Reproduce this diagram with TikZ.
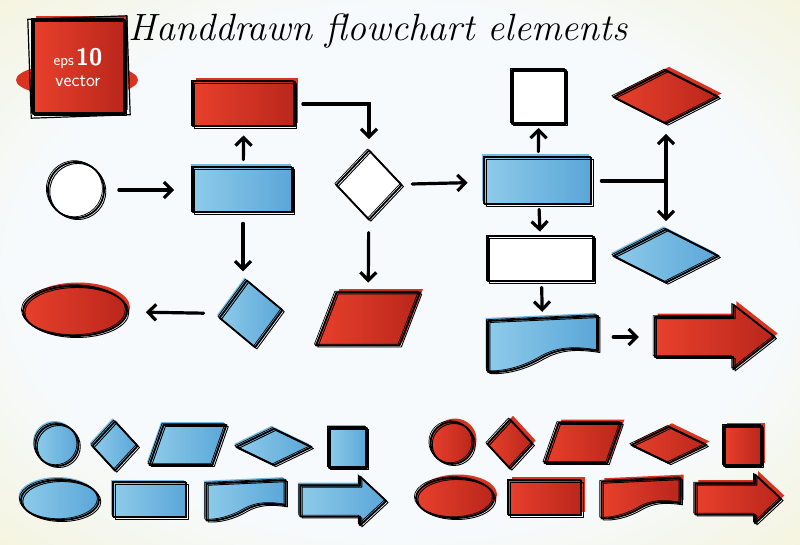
\documentclass[tikz,border=0pt]{standalone}
\usepackage{fontspec}
\usetikzlibrary{positioning, shapes.geometric, shapes.arrows, arrows.meta}

\definecolor{redL}{HTML}{E8402C}
\definecolor{redR}{HTML}{B9261B}
\definecolor{redC}{HTML}{D93322}
\definecolor{bluL}{HTML}{8ECBEA}
\definecolor{bluR}{HTML}{5AA6D8}
\definecolor{bluC}{HTML}{74B9E2}
\definecolor{paper}{HTML}{F6FAFC}
\definecolor{cream}{HTML}{F3EFC6}

\pgfdeclareradialshading{paperglow}{\pgfpoint{0bp}{0bp}}{color(0bp)=(paper); color(24bp)=(paper); color(46bp)=(cream); color(72bp)=(cream)}

\tikzset{
  sketch/.style={draw=black, line width=1.8pt, line join=round,
    postaction={draw=black, line width=0.9pt, transform canvas={shift={(1.8pt,-1.5pt)}}},
    postaction={draw=black, line width=0.7pt, transform canvas={shift={(-1.6pt,1.3pt)}}}},
  redbox/.style={sketch, left color=redL, right color=redR,
    preaction={fill=redC, transform canvas={shift={(3pt,3.5pt)}}}},
  bluebox/.style={sketch, left color=bluL, right color=bluR,
    preaction={fill=bluC, transform canvas={shift={(-2.5pt,3pt)}}}},
  whitebox/.style={sketch, fill=white},
  box/.style={rectangle, inner sep=0pt},
  para/.style={trapezium, trapezium stretches=true, inner sep=2pt,
    trapezium left angle=72, trapezium right angle=108},
  link/.style={-{Straight Barb[length=8pt,width=16pt]}, line width=3.2pt,
    line cap=round, shorten >=8pt, shorten <=8pt},
  docshape/.pic={
    \path[#1] (-55,-24) -- (55,-29) -- (55,6) .. controls (30,2) and (15,4) .. (0,12)
      .. controls (-20,24) and (-40,28) .. (-55,27) -- cycle;
  },
}

\begin{document}
\begin{tikzpicture}[x=1pt, y=-1pt]
\useasboundingbox (0,0) rectangle (800,545);
\shade[shading=paperglow] (0,0) rectangle (800,545);

% title and badge
\node[font=\fontsize{38}{38}\selectfont\itshape] (title) at (378,31) {Handdrawn flowchart elements};
\fill[redC] (77,80) ellipse [x radius=61, y radius=17];
\node[box, redbox, minimum width=92, minimum height=94] (badge) at (79,67) {};
\node[box, draw, line width=1.2pt, minimum width=99, minimum height=99, rotate=2] (badgeframe) at (badge) {};
\node[font=\sffamily, text=white, anchor=base, inner sep=0pt] (eps) at (78,66)
  {{\fontsize{16}{16}\selectfont eps}\hspace{2pt}{\fontsize{24}{22}\selectfont\bfseries 10}};
\node[font=\sffamily\fontsize{19}{16}\selectfont, text=white, anchor=north, inner sep=0pt] (vec) at ([yshift=-6pt]eps.south) {vector};

% main chart
\node[circle, whitebox, minimum size=56] (start) at (76,190) {};
\node[box, bluebox, minimum width=100, minimum height=45] (B1) at (243,190) {};
\node[box, redbox, minimum width=102, minimum height=45] (R1) at (244,104) {};
\node[diamond, whitebox, minimum width=66, minimum height=70, inner sep=0pt] (D1) at (369,185) {};
\node[box, bluebox, minimum width=107, minimum height=47] (B2) at (538,181) {};
\node[box, whitebox, minimum size=54] (S1) at (539,97) {};
\node[diamond, redbox, minimum width=106, minimum height=54, inner sep=0pt] (RD1) at (666,97) {};
\node[diamond, bluebox, minimum width=106, minimum height=54, inner sep=0pt] (BD1) at (666,256) {};
\node[box, whitebox, minimum width=106, minimum height=45] (W1) at (541,259) {};
\node[box, minimum width=110, minimum height=54] (DOC1) at (543,345) {};
\pic at (DOC1) {docshape=bluebox};
\node[single arrow, redbox, minimum height=120, minimum width=63, single arrow head extend=12.5pt,
  single arrow tip angle=76, inner xsep=0pt, inner ysep=19pt] (ARR1) at (702,337) {};
\node[diamond, bluebox, minimum width=64, minimum height=68, inner sep=0pt, rotate=7] (BD2) at (251,314) {};
\node[ellipse, redbox, minimum width=104, minimum height=50, inner sep=0pt] (E1) at (75,311) {};
\node[para, redbox, minimum width=104, minimum height=53] (P1) at (368,319) {};

\draw[link, shorten <=14pt, shorten >=18pt] (start) -- (B1);
\draw[link, shorten <=7pt] (B1) -- (R1);
\draw[link, shorten <=7pt, shorten >=10pt] (R1.east) -| (D1.north);
\draw[link, shorten <=10pt, shorten >=16pt] (D1) -- (B2);
\draw[link, shorten <=5pt, shorten >=3pt] (B2) -- (S1);
\coordinate (fork) at (RD1.south |- B2.east);
\draw[line width=3.2pt, line cap=round, shorten <=9pt] (B2.east) -- (fork);
\draw[link, shorten <=0pt, shorten >=9pt] (fork) -- (RD1.south);
\draw[link, shorten <=0pt, shorten >=7pt] (fork) -- (BD1.north);
\draw[link, shorten <=4pt, shorten >=4pt] (B2) -- (W1);
\draw[link, shorten <=5pt, shorten >=6pt] (W1) -- (DOC1);
\draw[link, shorten <=15pt, shorten >=15pt] (DOC1.east |- ARR1.west) -- (ARR1.west);
\draw[link, shorten <=10pt, shorten >=8pt] (B1.south) -- (B1.south |- BD2.north);
\draw[link, shorten <=18pt, shorten >=18pt] (BD2) -- (E1);
\draw[link, shorten <=12pt, shorten >=9pt] (D1) -- (P1);

% sample shapes
\foreach \dx/\dy/\fillc in {0/0/bluebox, 395/-2/redbox} {
  \begin{scope}[shift={(\dx,\dy)}]
    \node[ellipse, \fillc, minimum width=43, minimum height=42, inner sep=0pt] (oval-\fillc) at (57,445) {};
    \node[diamond, \fillc, minimum width=46, minimum height=50, inner sep=0pt] (tall-\fillc) at (115,446) {};
    \node[para, \fillc, minimum width=77, minimum height=40, trapezium left angle=74, trapezium right angle=106] (para-\fillc) at (188,445) {};
    \node[diamond, \fillc, minimum width=76, minimum height=37, inner sep=0pt] (wide-\fillc) at (274,447) {};
    \node[box, \fillc, minimum width=38, minimum height=40] (sq-\fillc) at (348,448) {};
    \node[ellipse, \fillc, minimum width=78, minimum height=40, inner sep=0pt] (egg-\fillc) at (60,500) {};
    \node[box, \fillc, minimum width=73, minimum height=35] (rect-\fillc) at (150,500) {};
    \node[box, minimum width=79, minimum height=40] (doc-\fillc) at (246,501) {};
    \pic[scale=0.72] at (doc-\fillc) {docshape=\fillc};
    \node[single arrow, \fillc, minimum height=86, minimum width=47, single arrow head extend=9pt,
      single arrow tip angle=86, inner xsep=0pt, inner ysep=14.5pt] (arrow-\fillc) at (335,501) {};
  \end{scope}
}
\end{tikzpicture}
\end{document}
